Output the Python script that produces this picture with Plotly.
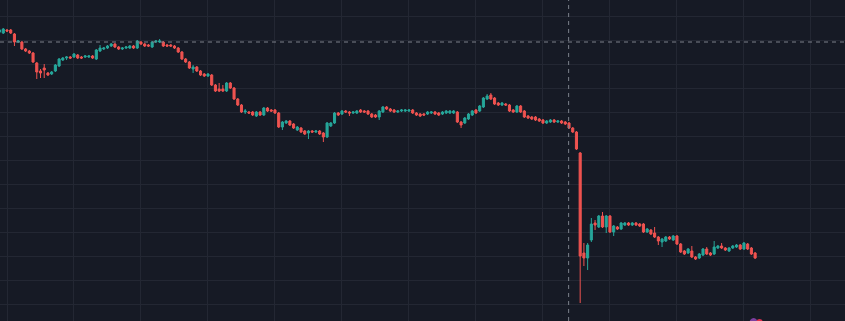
import plotly.graph_objects as go

# Candle index (time order)
candle_index = list(range(204))

open_ = [368, 367, 370, 370, 366, 358, 358, 351, 349, 347,
         337, 329, 332, 327, 326, 329, 334, 340, 342, 343,
         343, 345, 343, 343, 343, 344, 341, 349, 351, 352,
         354, 356, 353, 351, 352, 352, 354, 352, 358, 356,
         355, 353, 358, 358, 358, 355, 355, 354, 352, 348,
         341, 338, 331, 333, 329, 326, 324, 325, 315, 311,
         311, 309, 317, 312, 301, 295, 288, 288, 288, 284,
         288, 285, 292, 290, 290, 287, 273, 277, 279, 276,
         270, 272, 269, 267, 269, 268, 269, 267, 263, 274,
         277, 287, 286, 289, 288, 287, 287, 290, 289, 289,
         286, 285, 283, 288, 293, 291, 290, 288, 289, 289,
         289, 290, 287, 286, 286, 286, 287, 288, 287, 286,
         287, 287, 287, 288, 278, 277, 281, 285, 290, 289,
         293, 301, 305, 302, 297, 295, 296, 295, 290, 288,
         294, 289, 284, 283, 283, 281, 280, 277, 278, 280,
         278, 279, 278, 277, 272, 268, 247, 147, 142, 160,
         177, 173, 184, 173, 184, 168, 173, 171, 175, 177,
         175, 177, 176, 176, 168, 170, 167, 163, 158, 159,
         163, 160, 164, 156, 149, 147, 149, 143, 142, 145,
         151, 147, 146, 152, 154, 152, 149, 152, 153, 155,
         151, 156, 152, 147]

high = [371, 372, 371, 371, 367, 360, 359, 352, 350, 348,
        338, 331, 336, 328, 329, 336, 342, 343, 344, 344,
        347, 346, 344, 345, 345, 345, 351, 355, 353, 355,
        357, 357, 354, 353, 354, 355, 355, 360, 359, 357,
        356, 359, 360, 361, 359, 356, 356, 355, 353, 349,
        342, 339, 335, 334, 330, 327, 327, 326, 316, 317,
        315, 318, 318, 313, 302, 296, 291, 289, 289, 289,
        289, 293, 293, 291, 291, 288, 279, 280, 280, 277,
        274, 273, 270, 270, 270, 270, 270, 268, 278, 278,
        288, 288, 290, 290, 289, 289, 290, 291, 290, 290,
        287, 286, 290, 294, 294, 292, 291, 290, 291, 291,
        291, 291, 288, 287, 287, 289, 289, 289, 288, 289,
        290, 290, 290, 289, 279, 283, 287, 290, 291, 295,
        303, 306, 307, 303, 298, 298, 297, 296, 291, 295,
        295, 290, 285, 284, 284, 282, 281, 280, 281, 281,
        280, 280, 279, 278, 273, 269, 248, 157, 157, 182,
        180, 185, 188, 185, 185, 175, 174, 178, 178, 178,
        178, 178, 177, 177, 172, 171, 173, 164, 162, 164,
        164, 165, 165, 157, 150, 152, 154, 144, 147, 152,
        153, 148, 159, 155, 157, 153, 153, 155, 156, 156,
        158, 157, 153, 148]

low = [367, 366, 368, 366, 354, 357, 350, 348, 346, 337,
       321, 322, 322, 324, 325, 328, 333, 339, 340, 341,
       342, 341, 341, 342, 342, 341, 340, 348, 350, 351,
       353, 352, 350, 350, 351, 351, 351, 351, 355, 353,
       353, 352, 357, 357, 353, 353, 353, 351, 347, 340,
       337, 331, 327, 328, 324, 323, 323, 314, 308, 308,
       308, 308, 311, 300, 294, 287, 286, 286, 284, 283,
       284, 284, 288, 288, 286, 272, 270, 276, 274, 271,
       269, 267, 265, 261, 267, 267, 265, 258, 262, 273,
       276, 284, 285, 287, 284, 286, 286, 287, 287, 285,
       282, 282, 280, 287, 290, 288, 287, 287, 288, 288,
       288, 286, 284, 283, 284, 285, 286, 285, 284, 285,
       286, 286, 286, 277, 272, 276, 280, 284, 286, 288,
       292, 300, 300, 295, 294, 294, 294, 288, 287, 287,
       287, 282, 281, 280, 279, 278, 276, 276, 277, 277,
       277, 276, 275, 271, 267, 250, 97, 134, 130, 158,
       170, 172, 172, 167, 167, 164, 170, 170, 174, 174,
       174, 174, 173, 167, 167, 165, 162, 155, 153, 158,
       160, 159, 155, 147, 145, 146, 142, 140, 141, 144,
       145, 144, 145, 151, 151, 149, 148, 151, 152, 150,
       150, 150, 145, 141]

close = [370, 371, 369, 367, 358, 359, 351, 349, 347, 338,
         328, 327, 330, 325, 328, 335, 341, 342, 343, 342,
         346, 342, 342, 344, 344, 342, 350, 352, 352, 354,
         356, 353, 351, 352, 353, 354, 352, 359, 356, 354,
         354, 358, 359, 359, 354, 354, 354, 352, 348, 341,
         338, 332, 333, 329, 325, 324, 326, 315, 309, 309,
         309, 317, 312, 301, 295, 288, 289, 287, 285, 288,
         285, 292, 289, 289, 287, 273, 278, 279, 275, 272,
         273, 268, 266, 269, 268, 269, 266, 263, 277, 277,
         287, 285, 289, 288, 287, 288, 289, 288, 288, 286,
         283, 283, 289, 293, 291, 289, 288, 289, 290, 290,
         290, 287, 285, 284, 285, 288, 288, 286, 285, 288,
         289, 289, 289, 278, 275, 282, 286, 289, 287, 294,
         302, 304, 301, 296, 295, 297, 295, 289, 288, 294,
         288, 283, 282, 281, 280, 279, 277, 279, 280, 278,
         279, 277, 276, 272, 268, 251, 144, 142, 155, 176,
         175, 184, 173, 184, 168, 174, 171, 177, 177, 175,
         177, 175, 174, 168, 171, 166, 163, 159, 161, 163,
         161, 164, 156, 148, 146, 151, 143, 141, 146, 151,
         146, 145, 153, 154, 152, 150, 152, 154, 155, 151,
         157, 151, 146, 142]

# Crosshair position (candle index, price)
crosshair_x = 152.9
crosshair_y = 358

BG = "#161a25"
GRID = "#232733"
UP = "#26a69a"
DOWN = "#ef5350"

fig = go.Figure()
fig.add_trace(go.Candlestick(
    x=candle_index, open=open_, high=high, low=low, close=close,
    increasing=dict(line=dict(color=UP, width=1), fillcolor=UP),
    decreasing=dict(line=dict(color=DOWN, width=1), fillcolor=DOWN),
    whiskerwidth=0,
    showlegend=False,
))

# small event badges, mostly hidden below the bottom edge
fig.add_shape(type="circle", xref="x", yref="y", x0=201.4, x1=203.8, y0=70, y1=82,
              fillcolor="#7b3fa0", line=dict(width=0), layer="above")
fig.add_shape(type="circle", xref="x", yref="y", x0=203.3, x1=205.1, y0=73, y1=81,
              fillcolor="#e0304f", line=dict(width=0), layer="above")

fig.add_shape(type="line", xref="paper", x0=0, x1=1, yref="y", y0=crosshair_y, y1=crosshair_y,
              line=dict(color="#7c808b", width=1, dash="4px,4px"))
fig.add_shape(type="line", xref="x", x0=crosshair_x, x1=crosshair_x, yref="paper", y0=0, y1=1,
              line=dict(color="#7c808b", width=1, dash="4px,4px"))

fig.update_layout(
    width=845, height=321,
    margin=dict(l=0, r=0, t=0, b=0),
    paper_bgcolor=BG, plot_bgcolor=BG,
    boxgap=0.2,
    xaxis=dict(range=[0.12, 227.15], showgrid=True, gridcolor=GRID, gridwidth=1,
               tick0=2, dtick=18, showticklabels=False, zeroline=False,
               rangeslider=dict(visible=False), showline=False, ticks=""),
    yaxis=dict(range=[79, 400], showgrid=True, gridcolor=GRID, gridwidth=1,
               tick0=0, dtick=24, showticklabels=False, zeroline=False,
               showline=False, ticks=""),
    hovermode=False,
)

fig.write_html("out.html")
